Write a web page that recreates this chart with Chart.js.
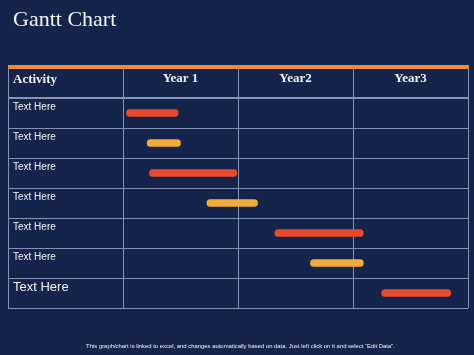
<!DOCTYPE html>
<html>
<head>
<meta charset="utf-8">
<script src="https://cdn.jsdelivr.net/npm/chart.js@4/dist/chart.umd.min.js"></script>
<style>
  html, body { margin: 0; padding: 0; background: #14244a; }
  canvas { display: block; }
</style>
</head>
<body>
<canvas id="c" width="474" height="355"></canvas>
<script>
// ---- data ----
const activities = ['Text Here', 'Text Here', 'Text Here', 'Text Here', 'Text Here', 'Text Here', 'Text Here'];
const years = ['Year 1', 'Year2', 'Year3'];
const startYear = [0.03, 0.21, 0.23, 0.73, 1.32, 1.63, 2.25];
const endYear   = [0.48, 0.50, 0.99, 1.17, 2.09, 2.09, 2.85];
const barColorKey = ['red', 'orange', 'red', 'orange', 'red', 'orange', 'red'];
const headerFirst = 'Activity';
const titleText = 'Gantt Chart';
const footerText = 'This graph/chart is linked to excel, and changes automatically based on data. Just left click on it and select \u201cEdit Data\u201d.';

// ---- styles ----
const BG = '#14244a';
const GRID = '#8393b4';
const TEXT = '#f2f3f6';
const COLORS = { red: '#e84a2c', orange: '#f5aa3c' };
const ACCENT = '#ee8a3c';
const SERIF = "'Liberation Serif', 'DejaVu Serif', serif";
const SANS = "'Liberation Sans', Arial, sans-serif";

const tablePlugin = {
  id: 'tableDecor',
  beforeDraw(chart) {
    const ctx = chart.ctx;
    ctx.save();
    ctx.fillStyle = BG;
    ctx.fillRect(0, 0, chart.width, chart.height);
    ctx.restore();
  },
  afterDraw(chart) {
    const ctx = chart.ctx;
    const area = chart.chartArea;
    const x2 = chart.scales.x2;
    const left = area.left - 115;
    ctx.save();
    ctx.strokeStyle = GRID;
    ctx.lineWidth = 1;
    ctx.beginPath();
    ctx.moveTo(left + 0.5, x2.top);
    ctx.lineTo(left + 0.5, area.bottom);
    ctx.stroke();
    ctx.beginPath();
    ctx.moveTo(left, area.top + 0.5);
    ctx.lineTo(area.left, area.top + 0.5);
    ctx.stroke();
    ctx.fillStyle = ACCENT;
    ctx.fillRect(left, x2.top - 3, area.right - left + 1, 4);
    ctx.fillStyle = TEXT;
    ctx.font = 'bold 13px ' + SERIF;
    ctx.textAlign = 'left';
    ctx.textBaseline = 'alphabetic';
    ctx.fillText(headerFirst, left + 5, x2.top + 15);
    ctx.restore();
  }
};

new Chart(document.getElementById('c'), {
  type: 'bar',
  data: {
    labels: activities,
    datasets: [{
      data: startYear.map((s, i) => [s, endYear[i]]),
      backgroundColor: barColorKey.map(k => COLORS[k]),
      borderWidth: 0,
      borderRadius: 4,
      borderSkipped: false,
      barThickness: 7
    }]
  },
  options: {
    indexAxis: 'y',
    responsive: false,
    animation: false,
    layout: { padding: { left: 13, right: 6, top: 0, bottom: 0 } },
    plugins: {
      legend: { display: false },
      tooltip: { enabled: false },
      title: {
        display: true,
        text: titleText,
        align: 'start',
        color: TEXT,
        font: { family: SERIF, size: 22, weight: 'normal' },
        padding: { top: 7, bottom: 34.6 }
      },
      subtitle: {
        display: true,
        position: 'bottom',
        text: footerText,
        color: TEXT,
        font: { family: "'Liberation Sans Narrow', " + SANS, size: 5.9 },
        padding: { top: 35, bottom: 4.9 }
      }
    },
    scales: {
      x: {
        type: 'linear',
        min: 0, max: 3,
        position: 'bottom',
        ticks: { display: false, stepSize: 1 },
        grid: { color: GRID, drawTicks: false },
        border: { display: false },
        afterFit: s => { s.height = 0; }
      },
      x2: {
        type: 'category',
        position: 'top',
        labels: years,
        offset: true,
        grid: { offset: true, drawOnChartArea: false, drawTicks: true, tickLength: 30, color: GRID },
        border: { color: GRID },
        ticks: { color: TEXT, padding: -18, maxRotation: 0, font: { family: SERIF, size: 13, weight: 'bold' } },
        afterFit: s => { s.height = 30; }
      },
      y: {
        type: 'category',
        offset: true,
        grid: { offset: true, color: GRID, drawTicks: true, tickLength: 115, tickColor: GRID },
        border: { color: GRID },
        ticks: {
          crossAlign: 'far',
          labelOffset: -6,
          color: TEXT,
          autoSkip: false,
          font: ctx => ({ family: SANS, size: ctx.index === activities.length - 1 ? 13 : 10 })
        },
        afterFit: s => { s.width = 110; }
      }
    }
  },
  plugins: [tablePlugin]
});
</script>
</body>
</html>
